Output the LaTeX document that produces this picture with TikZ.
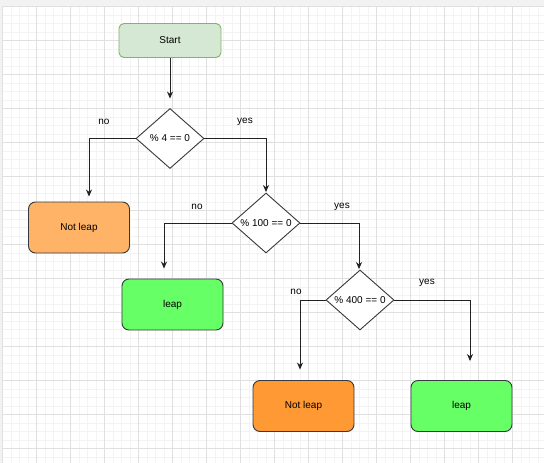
\documentclass[tikz,border=0pt]{standalone}
\usepackage{fontspec}
\setmainfont{Liberation Sans}
\usetikzlibrary{shapes.geometric,arrows.meta,calc}
\definecolor{startfill}{HTML}{D5E8D4}
\definecolor{startline}{HTML}{82B366}
\definecolor{nlfillA}{HTML}{FFB366}
\definecolor{nlfillB}{HTML}{FF9933}
\definecolor{leapfill}{HTML}{66FF66}
\definecolor{boxline}{HTML}{36393D}
\definecolor{linecol}{HTML}{222222}
\definecolor{gridminor}{HTML}{F3F3F3}
\definecolor{gridmajor}{HTML}{E0E0E0}
\definecolor{framecol}{HTML}{F2F2F2}
\tikzset{
  box/.style={rectangle, rounded corners=7pt, draw=boxline, line width=0.9pt,
    minimum width=101pt, minimum height=51pt, inner sep=0pt, font=\fontsize{10}{12}\selectfont},
  decision/.style={diamond, draw=boxline, fill=white, line width=0.9pt, aspect=1.13,
    minimum width=68pt, minimum height=60pt, inner sep=0pt, font=\fontsize{10}{12}\selectfont},
  conn/.style={draw=linecol, line width=0.9pt, -{Stealth[length=7pt,width=6pt]}},
  lbl/.style={font=\fontsize{10}{12}\selectfont, inner sep=0pt}
}
\begin{document}
\begin{tikzpicture}[x=1pt,y=-1pt]
\useasboundingbox (0,0) rectangle (544,463);
% frame and canvas
\fill[framecol] (0,0) rectangle (544,463);
\fill[white] (2.5,6) rectangle (544,463);
% minor grid
\foreach \k in {0,...,63} {
  \draw[gridminor, line width=0.5pt] ({2.7+8.5*\k},6) -- ({2.7+8.5*\k},463);
}
\foreach \k in {0,...,53} {
  \draw[gridminor, line width=0.5pt] (2.5,{6.7+8.5*\k}) -- (544,{6.7+8.5*\k});
}
% major grid
\foreach \k in {0,...,15} {
  \draw[gridmajor, line width=0.8pt] ({2.7+34*\k},6) -- ({2.7+34*\k},463);
}
\foreach \k in {0,...,13} {
  \draw[gridmajor, line width=0.8pt] (2.5,{6.7+34*\k}) -- (544,{6.7+34*\k});
}
% nodes
\node[box, fill=startfill, draw=startline, rounded corners=5pt, minimum width=102pt, minimum height=34pt] (start) at (170,40.5) {Start};
\node[decision] (d1) at (170,138.5) {\% 4 == 0};
\node[box, fill=nlfillA] (nl1) at (79,227.5) {Not leap};
\node[decision] (d2) at (266,223) {\% 100 == 0};
\node[box, fill=leapfill] (lp1) at (172.5,304.5) {leap};
\node[decision] (d3) at (360,300) {\% 400 == 0};
\node[box, fill=nlfillB] (nl2) at (303.5,406) {Not leap};
\node[box, fill=leapfill] (lp2) at (461.5,406) {leap};
% connectors
\draw[conn, shorten >=9.5pt] (start.south) -- (d1.north);
\draw[conn, shorten >=5pt] (d1.west) -| ([xshift=10pt]nl1.north);
\draw[conn, shorten >=0.5pt] (d1.east) -| (d2.north);
\draw[conn, shorten >=10pt] (d2.west) -| ([xshift=-8.5pt]lp1.north);
\draw[conn, shorten >=0.5pt] (d2.east) -| ([xshift=-1pt]d3.north);
\draw[conn, shorten >=10.5pt] (d3.west) -| ([xshift=-3.5pt]nl2.north);
\draw[conn, shorten >=19pt] (d3.east) -| ([xshift=8.5pt]lp2.north);
% labels
\node[lbl] (l1) at (104,122) {no};
\node[lbl] (l2) at (245,122) {yes};
\node[lbl] (l3) at (197,207) {no};
\node[lbl] (l4) at (342,207) {yes};
\node[lbl] (l5) at (296,292) {no};
\node[lbl] (l6) at (427,283) {yes};
\end{tikzpicture}
\end{document}
